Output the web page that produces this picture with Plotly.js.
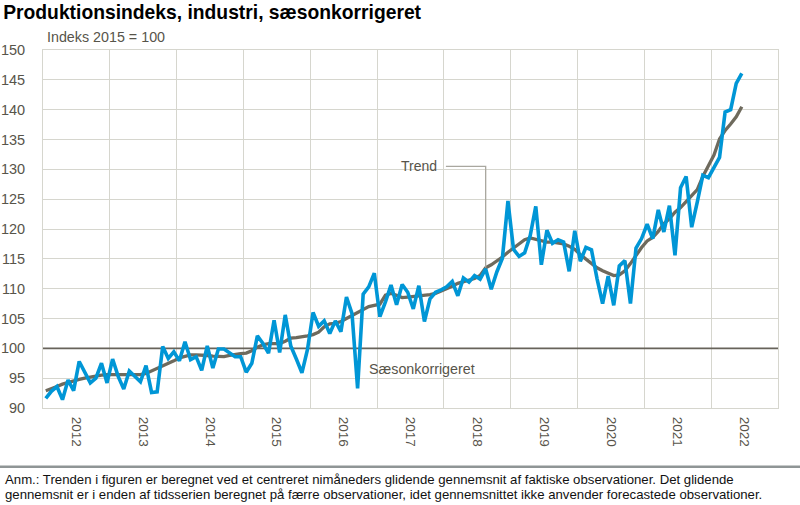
<!DOCTYPE html>
<html>
<head>
<meta charset="utf-8">
<script src="https://cdn.plot.ly/plotly-3.0.1.min.js"></script>
<style>
  html, body { margin: 0; padding: 0; background: #fff; }
  #plot { width: 800px; height: 505px; }
</style>
</head>
<body>
<div id="plot"></div>
<script>
// monthly series, Jan 2012 .. Jun 2022
const startYear = 2012;
const years = ['2012', '2013', '2014', '2015', '2016', '2017', '2018', '2019', '2020', '2021', '2022'];
const baseIndex = 100;

const saeson = [
  91.6, 92.8, 93.6, 91.4, 94.7, 92.9, 97.8, 96.1, 94.2, 95.0, 97.5, 94.2,
  98.2, 95.3, 93.2, 96.2, 95.3, 94.4, 97.1, 92.6, 92.7, 100.3, 98.3, 99.4,
  97.9, 101.1, 98.1, 98.6, 96.3, 100.4, 96.7, 99.9, 99.9, 99.3, 98.6, 98.6,
  96.0, 97.5, 102.1, 100.8, 99.2, 104.7, 99.3, 105.6, 100.4, 98.2, 95.9, 99.8,
  106.0, 103.7, 104.6, 102.5, 104.6, 102.8, 108.6, 105.8, 93.3, 109.1, 110.3, 112.6,
  105.3, 107.8, 110.6, 107.3, 110.7, 109.4, 106.6, 110.5, 104.5, 108.3, 109.4, 109.8,
  110.3, 111.2, 108.8, 111.8, 111.1, 112.2, 111.6, 113.3, 109.9, 112.8, 115.1, 124.7,
  116.6, 115.4, 116.0, 118.9, 123.8, 114.0, 119.8, 117.6, 118.2, 117.8, 112.9, 119.7,
  114.6, 116.9, 116.5, 111.7, 107.5, 112.1, 107.2, 113.8, 114.7, 107.5, 116.8, 118.4,
  120.8, 118.4, 123.2, 119.5, 123.9, 115.6, 126.9, 128.8, 120.3, 124.5, 129.0, 128.6,
  130.4, 132.0, 139.6, 140.0, 144.4, 146.1
];

const trend = [
  92.9, 93.2, 93.6, 94.0, 94.3, 94.6, 94.8, 95.0, 95.2, 95.4, 95.5, 95.6,
  95.6, 95.6, 95.5, 95.5, 95.6, 95.6, 95.8, 96.2, 96.6, 97.1, 97.5, 97.9,
  98.4, 98.7, 98.9, 98.9, 98.9, 98.8, 98.7, 98.6, 98.6, 98.8, 99.0, 99.1,
  99.2, 99.6, 100.2, 100.6, 100.8, 100.8, 100.8, 101.2, 101.7, 101.8, 101.9, 102.1,
  102.3, 102.7, 103.6, 104.1, 104.2, 104.5, 105.0, 105.5, 105.9, 106.4, 107.0, 107.2,
  107.4, 108.9, 109.2, 108.9, 108.5, 108.6, 108.7, 108.8, 108.8, 109.0, 109.2, 109.6,
  109.9, 110.4, 110.9, 111.2, 111.4, 111.7, 112.2, 113.5, 114.0, 114.6, 115.3, 116.1,
  116.8, 117.5, 118.2, 118.5, 118.3, 118.0, 117.8, 117.8, 117.7, 117.5, 117.1, 116.6,
  115.7, 115.0, 114.2, 113.5, 113.0, 112.6, 112.2, 112.3, 113.0, 114.2, 115.6, 116.9,
  118.0, 118.6, 119.6, 120.9, 121.7, 122.8, 123.6, 124.7, 125.6, 126.6, 128.8, 130.6,
  132.4, 135.1, 136.5, 137.6, 138.8, 140.5
];

const noteLines = [
  'Anm.: Trenden i figuren er beregnet ved et centreret nimåneders glidende gennemsnit af faktiske observationer. Det glidende',
  'gennemsnit er i enden af tidsserien beregnet på færre observationer, idet gennemsnittet ikke anvender forecastede observationer.'
];

// each month sits in the middle of its slot on a year axis
const xs = saeson.map((_, i) => startYear + (i + 0.5) / 12);
const yearMid = years.map(y => +y + 0.5);
const yearEdges = years.map(y => +y).concat([+years[years.length - 1] + 1]);
const xRange = [startYear, startYear + years.length];

const gridCol = '#d6d6ce';
const textCol = '#57544a';
const sans = '"Liberation Sans", Arial, sans-serif';

const traces = [
  // index base line (2015 = 100), drawn as a trace so it sits over the grid
  {
    type: 'scatter', mode: 'lines', x: xRange, y: [baseIndex, baseIndex],
    line: { color: '#67635a', width: 1.6 },
    cliponaxis: false, hoverinfo: 'skip'
  },
  {
    type: 'scatter', mode: 'lines', x: xs, y: trend,
    line: { color: '#6e6a5d', width: 3.3 },
    hoverinfo: 'skip'
  },
  {
    type: 'scatter', mode: 'lines', x: xs, y: saeson,
    line: { color: '#0096d6', width: 3.6 },
    hoverinfo: 'skip'
  }
];

// trend leader goes down to the trend value of Aug 2018
const leadIdx = (2018 - startYear) * 12 + 7;

const layout = {
  width: 800, height: 505,
  margin: { l: 43, r: 22, t: 50, b: 97 },
  paper_bgcolor: '#fff', plot_bgcolor: '#fff',
  showlegend: false,
  font: { family: sans, color: textCol },
  title: {
    text: '<b>Produktionsindeks, industri, sæsonkorrigeret</b>',
    font: { family: sans, size: 19.3, color: '#000' },
    xref: 'container', x: 0.004, xanchor: 'left',
    yref: 'container', y: 0.975, yanchor: 'middle'
  },
  xaxis: {
    range: xRange,
    tickmode: 'array', tickvals: yearMid, ticktext: years,
    tickangle: 90, ticks: '', showgrid: false, zeroline: false,
    tickfont: { size: 13.5, color: textCol },
    ticklabelstandoff: 5,
    showline: true, linecolor: gridCol, linewidth: 1, mirror: true,
    minor: { tickmode: 'array', tickvals: yearEdges, showgrid: true, gridcolor: gridCol, gridwidth: 1, ticks: '' },
    fixedrange: true
  },
  yaxis: {
    range: [90, 150], dtick: 5, tick0: 90,
    ticks: '', showgrid: true, gridcolor: gridCol, gridwidth: 1, zeroline: false,
    tickfont: { size: 14.5, color: textCol },
    ticklabelstandoff: 14,
    showline: true, linecolor: gridCol, linewidth: 1, mirror: true,
    fixedrange: true
  },
  shapes: [
    // leader line for the Trend label
    { type: 'path', layer: 'above', xref: 'x', yref: 'y',
      path: 'M 2018.03 130.5 L ' + xs[leadIdx] + ' 130.5 L ' + xs[leadIdx] + ' ' + trend[leadIdx],
      line: { color: '#a9a79f', width: 1.3 } },
    // separator above the note
    { type: 'line', xref: 'paper', yref: 'paper', x0: -0.06, x1: 1.04, y0: -0.164, y1: -0.164,
      line: { color: '#8f9596', width: 2.5 } }
  ],
  annotations: [
    { text: 'Indeks 2015 = 100', xref: 'paper', yref: 'paper', x: 0.003, y: 1.035,
      xanchor: 'left', yanchor: 'middle', showarrow: false, font: { size: 14.3, color: textCol } },
    { text: 'Trend', xref: 'x', yref: 'y', x: 2017.92, y: 130.5,
      xanchor: 'right', yanchor: 'middle', showarrow: false, font: { size: 14, color: textCol } },
    { text: 'Sæsonkorrigeret', xref: 'x', yref: 'y', x: 2016.85, y: 96.6,
      xanchor: 'left', yanchor: 'middle', showarrow: false, font: { size: 14.3, color: textCol } }
  ].concat(noteLines.map((t, i) => ({
    text: t, xref: 'paper', yref: 'paper', x: -0.055, y: -0.201 - i * 0.04,
    xanchor: 'left', yanchor: 'middle', align: 'left', showarrow: false,
    font: { family: sans, size: 13.2, color: '#111' }
  })))
};

Plotly.newPlot('plot', traces, layout, { staticPlot: true, displayModeBar: false });
</script>
</body>
</html>
